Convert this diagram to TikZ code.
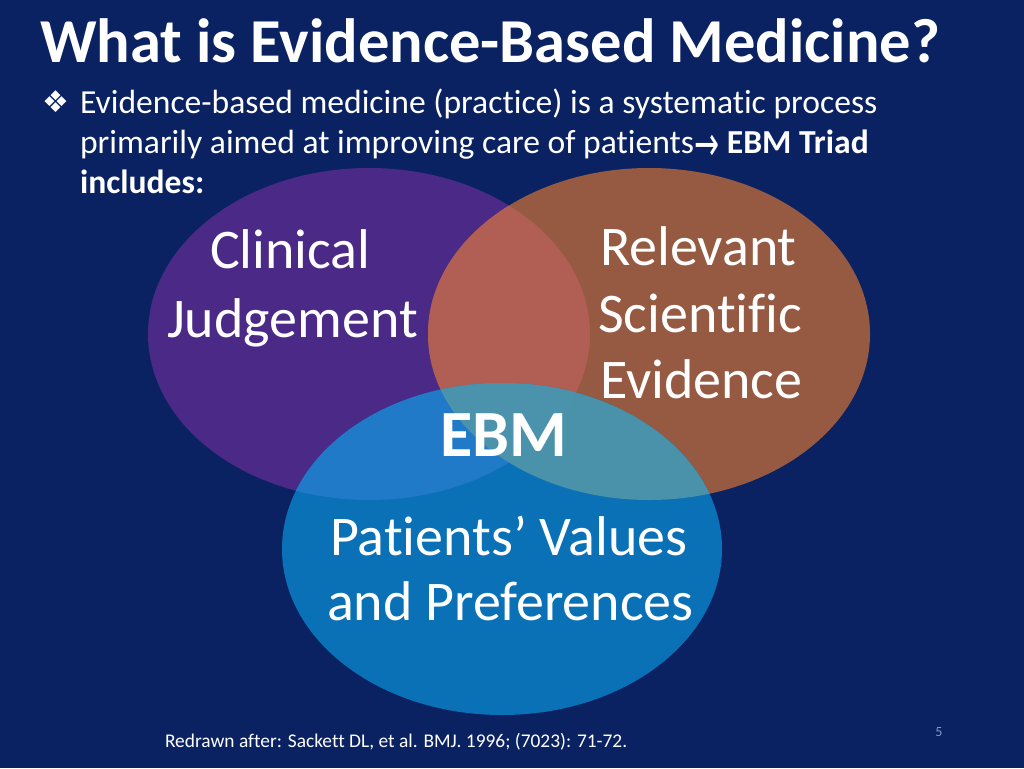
\documentclass[tikz,border=0pt]{standalone}
\usepackage{fontspec}
\usepackage{graphicx}
\setmainfont{Carlito}[Ligatures=NoCommon]
\newfontfamily\dejavu{DejaVu Sans}
\definecolor{bg}{HTML}{0A2262}
\definecolor{cpurple}{HTML}{4A2A86}
\definecolor{cbrown}{HTML}{955A41}
\definecolor{cblue}{HTML}{0A71B6}
\definecolor{cpbr}{HTML}{B15E55}
\definecolor{cpbl}{HTML}{207AC8}
\definecolor{cbrbl}{HTML}{4A91AA}
\definecolor{ctri}{HTML}{4B92AC}
\definecolor{cnum}{HTML}{8A9AC0}
\begin{document}
\begin{tikzpicture}[x=1pt,y=-1pt,
  txt/.style={inner sep=0pt, outer sep=0pt, text=white, anchor=base west},
  title/.style={txt, font=\fontsize{62.5}{70}\selectfont\bfseries},
  bullet/.style={txt, font=\fontsize{33.6}{40}\selectfont},
  venn/.style={txt, font=\fontsize{56}{66}\selectfont},
  ebm/.style={txt, font=\fontsize{66}{76}\selectfont\bfseries},
  foot/.style={txt, font=\fontsize{19.4}{23}\selectfont}]
\useasboundingbox (0,0) rectangle (1024,768);
\fill[bg] (0,0) rectangle (1024,768);
\def\purp{(369,334) ellipse [x radius=221pt, y radius=166pt]}
\def\brwn{(649,334) ellipse [x radius=221pt, y radius=166pt]}
\def\blu{(502,549) ellipse [x radius=220pt, y radius=166pt]}
\fill[cpurple] \purp;
\fill[cbrown] \brwn;
\fill[cblue] \blu;
\begin{scope}
  \clip \purp;
  \fill[cpbr] \brwn;
\end{scope}
\begin{scope}
  \clip \purp;
  \fill[cpbl] \blu;
\end{scope}
\begin{scope}
  \clip \brwn;
  \fill[cbrbl] \blu;
\end{scope}
\begin{scope}
  \clip \purp;
  \clip \brwn;
  \fill[ctri] \blu;
\end{scope}
% title
\node[title] (t) at (40,63) {What is Evidence-Based Medicine?};
% bullet
\node[txt, font=\dejavu\fontsize{30}{34}\selectfont, anchor=center] (b) at (56,102) {❖};
\node[bullet] (l1) at (80,113) {Evidence-based medicine (practice) is a systematic process};
\node[bullet] (l2) at (80,153) {primarily aimed at improving care of patients{\dejavu\fontsize{30}{34}\selectfont\raisebox{-0.24em}{\scalebox{1}[1.6]{→}}} \textbf{EBM Triad}};
\node[bullet] (l3) at (80,193) {\textbf{includes:}};
% venn labels
\node[venn] (c1) at (210,268) {Clinical};
\node[venn] (c2) at (167,337) {Judgement};
\node[venn] (r1) at (600,265) {Relevant};
\node[venn] (r2) at (598,332) {Scientific};
\node[venn] (r3) at (600,398) {Evidence};
\node[ebm] (e) at (440,456) {EBM};
\node[venn] (p1) at (330,555) {Patients’ Values};
\node[venn] (p2) at (327,620) {and Preferences};
% footer
\node[foot] (f) at (165,747) {Redrawn after: Sackett DL, et al. BMJ. 1996; (7023): 71-72.};
\node[txt, text=cnum, font=\fontsize{14}{16}\selectfont, anchor=center] (n) at (939,732) {5};
\end{tikzpicture}
\end{document}
